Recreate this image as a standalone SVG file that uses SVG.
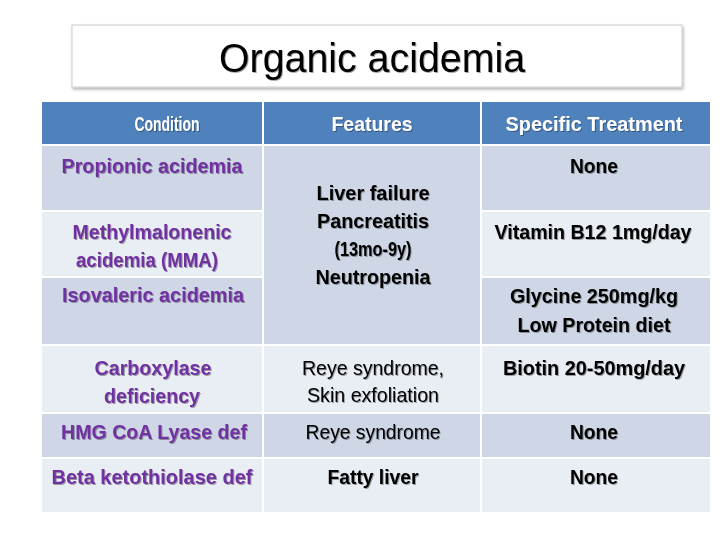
<svg xmlns="http://www.w3.org/2000/svg" width="728" height="546" viewBox="0 0 728 546">
<defs>
<filter id="sh" x="-10%" y="-20%" width="120%" height="150%"><feDropShadow dx="1" dy="1" stdDeviation="0.6" flood-color="#000" flood-opacity="0.35"/></filter>
<filter id="bs" x="-5%" y="-20%" width="110%" height="150%"><feDropShadow dx="1" dy="2" stdDeviation="1.5" flood-color="#000" flood-opacity="0.3"/></filter>
</defs>
<style>
text{font-family:"Liberation Sans",Arial,sans-serif;font-size:21px;text-anchor:middle}
.b{font-weight:bold}
.p{fill:#7030a0;font-weight:bold}
.h{fill:#fff;font-weight:bold}
.d{fill:#cfd7e7}
.l{fill:#e9edf4}
</style>
<rect width="728" height="546" fill="#fff"/>
<g id="title">
<rect x="72" y="25" width="610" height="62" fill="#fff" stroke="#ccc" filter="url(#bs)"/>
<text x="372" y="72" style="font-size:40px" textLength="306" lengthAdjust="spacingAndGlyphs" filter="url(#sh)">Organic acidemia</text>
</g>
<g id="cells">
<rect x="42" y="102" width="220" height="42" fill="#4f81bd"/>
<rect x="264" y="102" width="216" height="42" fill="#4f81bd"/>
<rect x="482" y="102" width="228" height="42" fill="#4f81bd"/>
<rect class="d" x="42" y="146" width="220" height="64"/>
<rect class="d" x="264" y="146" width="216" height="198"/>
<rect class="d" x="482" y="146" width="228" height="64"/>
<rect class="l" x="42" y="212" width="220" height="64"/>
<rect class="l" x="482" y="212" width="228" height="64"/>
<rect class="d" x="42" y="278" width="220" height="66"/>
<rect class="d" x="482" y="278" width="228" height="66"/>
<rect class="l" x="42" y="346" width="220" height="66"/>
<rect class="l" x="264" y="346" width="216" height="66"/>
<rect class="l" x="482" y="346" width="228" height="66"/>
<rect class="d" x="42" y="414" width="220" height="43"/>
<rect class="d" x="264" y="414" width="216" height="43"/>
<rect class="d" x="482" y="414" width="228" height="43"/>
<rect class="l" x="42" y="459" width="220" height="53"/>
<rect class="l" x="264" y="459" width="216" height="53"/>
<rect class="l" x="482" y="459" width="228" height="53"/>
</g>
<g id="texts" filter="url(#sh)">
<text class="h" x="167" y="131" textLength="65" lengthAdjust="spacingAndGlyphs">Condition</text>
<text class="h" x="372" y="131" textLength="81" lengthAdjust="spacingAndGlyphs">Features</text>
<text class="h" x="594" y="131" textLength="177" lengthAdjust="spacingAndGlyphs">Specific Treatment</text>
<text class="p" x="152" y="173" textLength="181" lengthAdjust="spacingAndGlyphs">Propionic acidemia</text>
<text class="b" x="594" y="173" textLength="48" lengthAdjust="spacingAndGlyphs">None</text>
<text class="b" x="373" y="200" textLength="113" lengthAdjust="spacingAndGlyphs">Liver failure</text>
<text class="b" x="373" y="228" textLength="112" lengthAdjust="spacingAndGlyphs">Pancreatitis</text>
<text class="b" x="373" y="256" textLength="77" lengthAdjust="spacingAndGlyphs">(13mo-9y)</text>
<text class="b" x="373" y="284" textLength="115" lengthAdjust="spacingAndGlyphs">Neutropenia</text>
<text class="p" x="152" y="239" textLength="159" lengthAdjust="spacingAndGlyphs">Methylmalonenic</text>
<text class="p" x="147" y="267" textLength="142" lengthAdjust="spacingAndGlyphs">acidemia (MMA)</text>
<text class="b" x="593" y="239" textLength="197" lengthAdjust="spacingAndGlyphs">Vitamin B12 1mg/day</text>
<text class="p" x="153" y="302" textLength="182" lengthAdjust="spacingAndGlyphs">Isovaleric acidemia</text>
<text class="b" x="594" y="303" textLength="168" lengthAdjust="spacingAndGlyphs">Glycine 250mg/kg</text>
<text class="b" x="594" y="332" textLength="153" lengthAdjust="spacingAndGlyphs">Low Protein diet</text>
<text class="p" x="153" y="375" textLength="117" lengthAdjust="spacingAndGlyphs">Carboxylase</text>
<text class="p" x="152" y="403" textLength="96" lengthAdjust="spacingAndGlyphs">deficiency</text>
<text x="373" y="375" textLength="142" lengthAdjust="spacingAndGlyphs">Reye syndrome,</text>
<text x="373" y="402" textLength="132" lengthAdjust="spacingAndGlyphs">Skin exfoliation</text>
<text class="b" x="594" y="375" textLength="182" lengthAdjust="spacingAndGlyphs">Biotin 20-50mg/day</text>
<text class="p" x="154" y="439" textLength="186" lengthAdjust="spacingAndGlyphs">HMG CoA Lyase def</text>
<text x="373" y="439" textLength="135" lengthAdjust="spacingAndGlyphs">Reye syndrome</text>
<text class="b" x="594" y="439" textLength="48" lengthAdjust="spacingAndGlyphs">None</text>
<text class="p" x="152" y="484" textLength="201" lengthAdjust="spacingAndGlyphs">Beta ketothiolase def</text>
<text class="b" x="373" y="484" textLength="91" lengthAdjust="spacingAndGlyphs">Fatty liver</text>
<text class="b" x="594" y="484" textLength="48" lengthAdjust="spacingAndGlyphs">None</text>
</g>
</svg>
